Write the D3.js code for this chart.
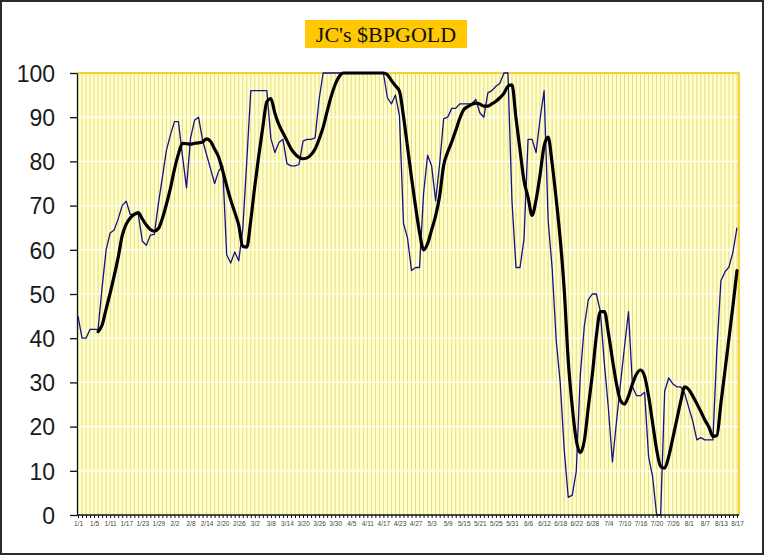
<!DOCTYPE html>
<html><head><meta charset="utf-8">
<script src="https://cdn.jsdelivr.net/npm/d3@7"></script>
<style>html,body{margin:0;padding:0;background:#fff;} svg{display:block;}</style>
</head><body>
<svg id="chart" width="765" height="557"></svg>
<script>
const title = "JC's $BPGOLD";
const categories = [
"1/1","1/2","1/3","1/4","1/5","1/8","1/9","1/10","1/11","1/12","1/15","1/16","1/17","1/18","1/19","1/22","1/23","1/24","1/25","1/26","1/29","1/30","1/31",
"2/1","2/2","2/5","2/6","2/7","2/8","2/9","2/12","2/13","2/14","2/15","2/16","2/19","2/20","2/21","2/22","2/23","2/26","2/27","2/28",
"3/1","3/2","3/5","3/6","3/7","3/8","3/9","3/12","3/13","3/14","3/15","3/16","3/19","3/20","3/21","3/22","3/23","3/26","3/27","3/28","3/29","3/30",
"4/2","4/3","4/4","4/5","4/6","4/9","4/10","4/11","4/12","4/13","4/16","4/17","4/18","4/19","4/20","4/23","4/24","4/25","4/26","4/27","4/30",
"5/1","5/2","5/3","5/4","5/7","5/8","5/9","5/10","5/11","5/14","5/15","5/16","5/17","5/18","5/21","5/22","5/23","5/24","5/25","5/28","5/29","5/30","5/31",
"6/1","6/4","6/5","6/6","6/7","6/8","6/11","6/12","6/13","6/14","6/15","6/18","6/19","6/20","6/21","6/22","6/25","6/26","6/27","6/28","6/29",
"7/2","7/3","7/4","7/5","7/6","7/9","7/10","7/11","7/12","7/13","7/16","7/17","7/18","7/19","7/20","7/23","7/24","7/25","7/26","7/27","7/30","7/31",
"8/1","8/2","8/3","8/6","8/7","8/8","8/9","8/10","8/13","8/14","8/15","8/16","8/17"
];
const bpgold = [
45,40,40,42,42,42,51.5,60,63.8,64.5,
67,70,71,68,68,68,62,61,63.3,63.5,
70.4,76.4,82.5,86,89,89,81.2,74,85.2,89.3,
90,84.8,81.5,78.3,75,77.8,79,58.9,57,59.5,
57.5,64.6,80,96,96,96,96,96,85.2,82,
84.3,85,79.5,79,79,79.3,84.6,85,85,85.3,
94,100,100,100,100,100,100,100,100,100,
100,100,100,100,100,100,100,94.4,93,95,
90.3,66,62.7,55.3,56,56,72.8,81.4,79,71.1,
79.4,89.7,90,92,92,93,93,93,93,94,
91,90,95.5,96,97,97.7,100,100,71,56,
56,62.5,85,85,82,89.7,96,66.7,55.8,39.6,
30,14.8,4,4.5,9.9,31.6,42.7,48.7,50,50,
46,34.2,24.1,12,21,29.7,38,46,29,27,
27,27.8,13.2,8.7,0,0,28,31,29.7,29,
29,27.4,24.3,21.2,17,17.5,17,17,17,37.5,
53,55,56.1,59.5,65
];
const bpgoldAvg = [
null,null,null,null,null,41.5,43,46.6,50.2,54.1,
58.3,63.2,65.8,67.2,68,68.4,67,65.6,64.6,64.2,
64.8,67.1,70.3,73.9,78.2,81.7,84.1,84,83.9,84.1,
84.2,84.4,85.1,84.5,82.8,81,77.9,74.5,71.3,68.5,
65.6,60.8,60.6,66.7,74.4,81.4,87.8,93.5,94.2,90.9,
88.3,86.5,84.7,82.9,81.7,80.9,80.6,80.8,81.5,82.8,
85,87.7,91.3,94.7,97.4,99.2,100,100,100,100,
100,100,100,100,100,100,100,99.6,98.3,97.1,
95.9,90.2,83.3,76.3,69.8,63.9,60,61.4,64.5,67.7,
72.2,79.1,82.1,84.4,87,89.7,91.7,92.4,92.9,93.2,
93,92.5,92.5,93,93.6,94.4,95.4,97,97.3,89.8,
82.6,75.6,71.9,67.8,71.3,77,83.5,85.5,79.5,71.5,
62.5,51,35,24.5,16.9,14.1,16.8,24.4,31.8,40.5,
46,46,41.2,35.2,29.7,25.9,25.1,26.9,29.7,31.9,
32.8,31.4,26.9,20.8,14.8,11,10.6,13.2,17.3,21.5,
25.7,29,28.4,26.9,25.2,23.4,21.5,19.9,17.8,18,
25.3,32.6,40,47.4,55.3
];
const yTicks = [0,10,20,30,40,50,60,70,80,90,100];
const xLabelEvery = 4;

const svg = d3.select("#chart");
const plot = {left:77, right:739, top:73, bottom:515};

// outer border
svg.append("rect").attr("x",1).attr("y",1).attr("width",762).attr("height",553)
  .attr("fill","#fff").attr("stroke","#2a2a2a").attr("stroke-width",2);

const x = d3.scalePoint().domain(categories).range([78, 737]);
const y = d3.scaleLinear().domain([0,100]).range([plot.bottom, plot.top]);

// plot background
svg.append("rect").attr("x",plot.left).attr("y",plot.top)
  .attr("width",plot.right-plot.left).attr("height",plot.bottom-plot.top)
  .attr("fill","#FFFFCC");

// vertical category gridlines
svg.append("g").selectAll("line").data(categories).join("line")
  .attr("x1",d=>x(d)).attr("x2",d=>x(d))
  .attr("y1",plot.top).attr("y2",plot.bottom)
  .attr("stroke","#E8DA85").attr("stroke-width",1);

// horizontal gridlines
svg.append("g").selectAll("line").data(yTicks.filter(t=>t>0&&t<100)).join("line")
  .attr("x1",plot.left).attr("x2",plot.right)
  .attr("y1",d=>y(d)).attr("y2",d=>y(d))
  .attr("stroke","#ffffff").attr("stroke-width",1.2);

// plot top/right border (gold)
svg.append("path")
  .attr("d",`M${plot.left},${plot.top}H${plot.right}V${plot.bottom}`)
  .attr("fill","none").attr("stroke","#F2C200").attr("stroke-width",1.5);

// lines
const blueLine = d3.line().x((d,i)=>x(categories[i])).y(d=>y(d));
svg.append("path").datum(bpgold).attr("d",blueLine)
  .attr("fill","none").attr("stroke","#12128A").attr("stroke-width",1.3)
  .attr("stroke-linejoin","round");

const avgLine = d3.line().defined(d=>d!=null)
  .x((d,i)=>x(categories[i])).y(d=>y(d)).curve(d3.curveMonotoneX);
svg.append("path").datum(bpgoldAvg).attr("d",avgLine)
  .attr("fill","none").attr("stroke","#000").attr("stroke-width",3.2)
  .attr("stroke-linejoin","round").attr("stroke-linecap","round");

// y axis
const yAxis = svg.append("g").attr("transform",`translate(${plot.left},0)`)
  .call(d3.axisLeft(y).tickValues(yTicks).tickSize(7).tickPadding(15).tickSizeOuter(0));
yAxis.select(".domain").attr("stroke","#111").attr("stroke-width",1.3);
yAxis.selectAll(".tick line").attr("stroke","#111").attr("stroke-width",1.3);
yAxis.selectAll(".tick text").attr("font-family","'Liberation Sans', Arial, sans-serif")
  .attr("font-size",23).attr("fill","#1a1a1a").attr("dy","0.36em");

// x axis: minor tick for every category
svg.append("g").attr("transform",`translate(0,${plot.bottom})`)
  .call(d3.axisBottom(x).tickSize(3).tickFormat("").tickSizeOuter(0))
  .call(g=>g.select(".domain").attr("stroke","#111").attr("stroke-width",1.3)
      .attr("d",`M${plot.left},0H${plot.right}`))
  .call(g=>g.selectAll(".tick line").attr("stroke","#111").attr("stroke-width",1));

// x axis labels
const xAxis = svg.append("g").attr("transform",`translate(0,${plot.bottom})`)
  .call(d3.axisBottom(x).tickValues(categories.filter((d,i)=>i%xLabelEvery===0))
    .tickSize(0).tickPadding(6).tickSizeOuter(0));
xAxis.select(".domain").remove();
xAxis.selectAll(".tick text").attr("font-family","'Liberation Sans', Arial, sans-serif")
  .attr("font-size",6.5).attr("fill","#444");

// title
const tg = svg.append("g");
tg.append("rect").attr("x",305).attr("y",20).attr("width",162).attr("height",28)
  .attr("fill","#FFC800");
tg.append("text").attr("x",386).attr("y",42).attr("text-anchor","middle")
  .attr("font-family","'Liberation Serif', 'Times New Roman', serif")
  .attr("font-size",22).attr("fill","#111").text(title);
</script>
</body></html>
